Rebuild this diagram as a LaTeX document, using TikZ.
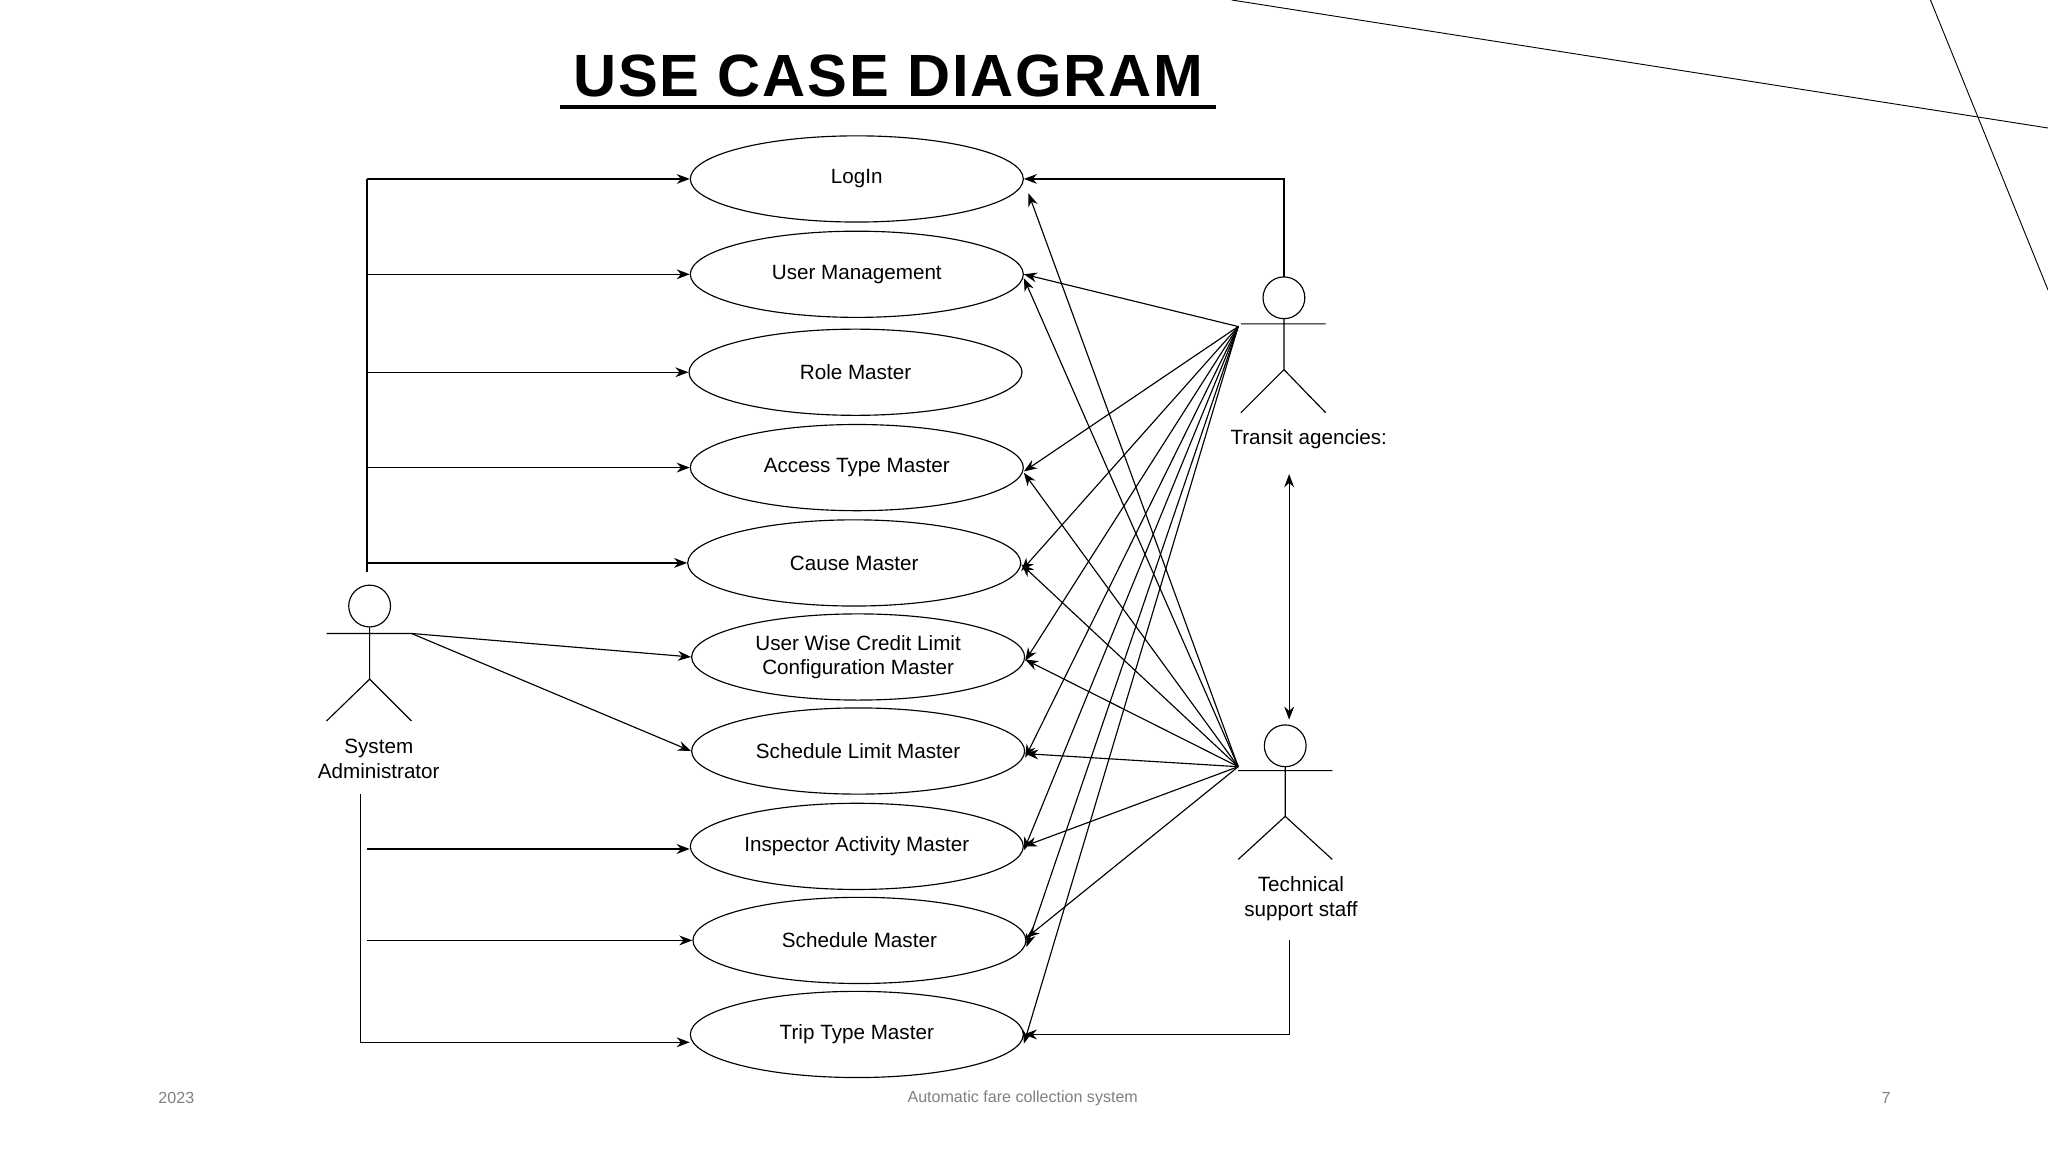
\documentclass[tikz,border=0pt]{standalone}
\usepackage{fontspec}
\setmainfont{Liberation Sans}
\usetikzlibrary{shapes.geometric,arrows.meta}
\begin{document}
\begin{tikzpicture}[x=0.02cm,y=-0.02cm,
  uc/.style={draw,ellipse,minimum width=5.1cm,minimum height=1.32cm,inner sep=0pt,font=\fontsize{9}{10.5}\selectfont,align=center,line width=0.5pt},
  ar/.style={-{Stealth[length=2mm,width=1.5mm]},line width=0.5pt},
  lbl/.style={font=\fontsize{9}{10.5}\selectfont,align=center},
  foot/.style={font=\fontsize{7}{8}\selectfont,text=gray}]
\useasboundingbox (0,0) rectangle (1568,882);
\draw[line width=0.4pt] (943,0) -- (1568,98);
\draw[line width=0.4pt] (1478,0) -- (1568,222);
\node[font=\bfseries\fontsize{26}{30}\selectfont\addfontfeature{LetterSpace=3}] (title) at (680,58) {USE CASE DIAGRAM};
\draw[line width=1.6pt] (429,82) -- (931,82);
% use cases
\node[uc] (u1) at (656,137) {LogIn};
\node[uc] (u2) at (656,210) {User Management};
\node[uc] (u3) at (655,285) {Role Master};
\node[uc] (u4) at (656,358) {Access Type Master};
\node[uc] (u5) at (654,431) {Cause Master};
\node[uc] (u6) at (657,503) {User Wise Credit Limit\\Configuration Master};
\node[uc] (u7) at (657,575) {Schedule Limit Master};
\node[uc] (u8) at (656,648) {Inspector Activity Master};
\node[uc] (u9) at (658,720) {Schedule Master};
\node[uc] (u10) at (656,792) {Trip Type Master};
% system administrator
\draw[line width=0.5pt] (283,464) circle (16);
\draw[line width=0.5pt] (283,480) -- (283,520) (250,485) -- (315,485)
  (250,552) -- (283,520) -- (315,552);
\coordinate (sa) at (315,485);
\node[lbl] (salbl) at (290,581) {System\\Administrator};
\coordinate (t0) at (281,438);
\coordinate (t1) at (281,137);
\draw[line width=0.5pt] (t0) -- (t1);
\draw[ar] (t1) -- (u1.west);
\foreach \i/\y in {2/210,3/285,4/358,5/431}{\coordinate (l\i) at (281,\y); \draw[ar] (l\i) -- (u\i.west);}
\draw[ar] (sa) -- (u6.west);
\draw[ar] (sa) -- (u7.west);
\coordinate (b0) at (276,608);
\coordinate (b1) at (276,798);
\draw[line width=0.5pt] (b0) -- (b1);
\draw[ar] (b1) -- (u10.west |- b1);
\foreach \i/\y in {8/650,9/720}{\coordinate (l\i) at (281,\y); \draw[ar] (l\i) -- (u\i.west |- l\i);}
% transit agencies
\draw[line width=0.5pt] (983,228) circle (16);
\draw[line width=0.5pt] (983,244) -- (983,283) (950,248) -- (1015,248)
  (950,316) -- (983,283) -- (1015,316);
\node[lbl] (talbl) at (1002,336) {Transit agencies:};
\coordinate (ta) at (948,250);
\coordinate (tatop) at (983,212);
\draw[ar] (tatop) |- (u1.east);
\foreach \i/\d in {2/0,4/-3,5/-6,6/-3,7/-5,8/-3,9/-5,10/-7}{\draw[ar] (ta) -- ([yshift=\d*0.02cm]u\i.east);}
% technical support staff
\draw[line width=0.5pt] (984,571) circle (16);
\draw[line width=0.5pt] (984,587) -- (984,625) (948,590) -- (1020,590)
  (948,658) -- (984,625) -- (1020,658);
\node[lbl] (tslbl) at (996,688) {Technical\\support staff};
\coordinate (ts) at (948,587);
\draw[ar] (ts) -- ([xshift=2pt,yshift=-0.22cm]u1.east);
\foreach \i/\d in {2/3,4/4,5/1,6/2,7/2,8/0,9/-2}{\draw[ar] (ts) -- ([yshift=-\d*0.02cm]u\i.east);}
\coordinate (tsb) at (987,720);
\draw[ar] (tsb) |- (u10.east);
\coordinate (d1) at (987,363);
\coordinate (d2) at (987,551);
\draw[{Stealth[length=2mm,width=1.5mm]}-{Stealth[length=2mm,width=1.5mm]},line width=0.5pt] (d1) -- (d2);
% footer
\node[foot] (f1) at (135,841) {2023};
\node[foot] (f2) at (783,841) {Automatic fare collection system};
\node[foot] (f3) at (1444,841) {7};
\end{tikzpicture}
\end{document}
